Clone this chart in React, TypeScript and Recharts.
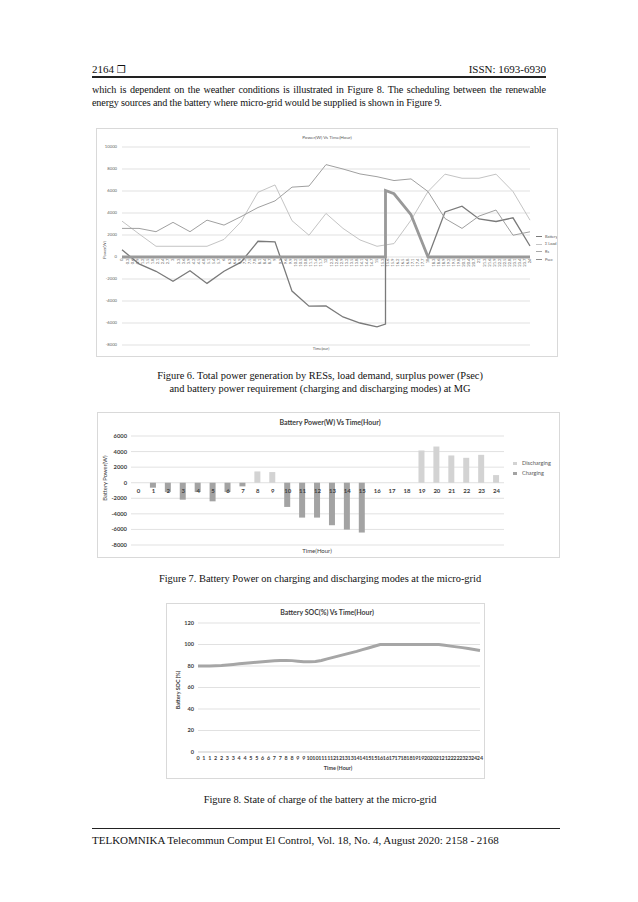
import React from 'react';
import { LineChart, Line, BarChart, Bar, XAxis, YAxis, CartesianGrid } from 'recharts';

// ---- Figure 6: power vs time ----
const HOURS_6 = [0, 1, 2, 3, 4, 5, 6, 7, 8, 9, 10, 11, 12, 13, 14, 15, 15.5, 15.5, 16, 17, 18, 19, 20, 21, 22, 23, 24];
const BATTERY_6 = [650, -620, -1300, -2200, -1250, -2400, -1300, -470, 1430, 1380, -3100, -4470, -4450, -5450, -6000, -6350, -6100, 6050, 5750, 3850, 0, 4100, 4620, 3460, 3230, 3560, 1000];
const LOAD_6 = [3260, 2100, 975, 975, 975, 975, 1600, 3200, 5880, 6550, 3300, 1980, 3960, 2600, 1550, 975, null, null, 1220, 3350, 5950, 7530, 7160, 7160, 7530, 5950, 3350];
const RS_6 = [2600, 2600, 2300, 3150, 2300, 3350, 2900, 3670, 4500, 5100, 6350, 6450, 8400, 8000, 7550, 7300, null, null, 6950, 7100, 5950, 3500, 2600, 3720, 4270, 1980, 2290];
const PSEC_6 = [0, 0, 0, 0, 0, 0, 0, 0, 0, 0, 0, 0, 0, 0, 0, 0, 0, 6050, 5750, 3850, 0, 0, 0, 0, 0, 0, 0];
const XTICKS_6 = [0, 0.3, 0.6, 0.9, 1.2, 1.5, 1.8, 2.1, 2.4, 2.7, 3, 3.3, 3.6, 3.9, 4.2, 4.5, 4.8, 5.1, 5.4, 5.7, 6, 6.3, 6.6, 6.9, 7.2, 7.5, 7.8, 8.1, 8.4, 8.7, 9, 9.3, 9.6, 9.9, 10.2, 10.5, 10.8, 11.1, 11.4, 11.7, 12, 12.3, 12.6, 12.9, 13.2, 13.5, 13.8, 14.1, 14.4, 14.7, 15, 15.3, 15.6, 15.9, 16.2, 16.5, 16.8, 17.1, 17.4, 17.7, 18, 18.3, 18.6, 18.9, 19.2, 19.5, 19.8, 20.1, 20.4, 20.7, 21, 21.3, 21.6, 21.9, 22.2, 22.5, 22.8, 23.1, 23.4, 23.7, 24];
const YTICKS_6 = [-8000, -6000, -4000, -2000, 0, 2000, 4000, 6000, 8000, 10000];

// ---- Figure 7: battery power bars ----
const HOURS_7 = [0, 1, 2, 3, 4, 5, 6, 7, 8, 9, 10, 11, 12, 13, 14, 15, 16, 17, 18, 19, 20, 21, 22, 23, 24];
const DISCHARGING_7 = [0, 0, 0, 0, 0, 0, 0, 0, 1450, 1370, 0, 0, 0, 0, 0, 0, 0, 0, 0, 4140, 4650, 3500, 3200, 3580, 980];
const CHARGING_7 = [0, -640, -1200, -2180, -1200, -2390, -1200, -470, 0, 0, -3110, -4480, -4480, -5460, -6020, -6400, 0, 0, 0, 0, 0, 0, 0, 0, 0];
const YTICKS_7 = [-8000, -6000, -4000, -2000, 0, 2000, 4000, 6000];

// ---- Figure 8: state of charge ----
const TIME_8 = [0, 0.5, 1, 1.5, 2, 2.5, 3, 3.5, 4, 4.5, 5, 5.5, 6, 6.5, 7, 7.5, 8, 8.5, 9, 9.5, 10, 10.5, 11, 11.5, 12, 12.5, 13, 13.5, 14, 14.5, 15, 15.5, 16, 16.5, 17, 17.5, 18, 18.5, 19, 19.5, 20, 20.5, 21, 21.5, 22, 22.5, 23, 23.5, 24];
const LABELS_8 = ['0', '1', '1', '2', '2', '3', '3', '4', '4', '5', '5', '6', '6', '7', '7', '8', '8', '9', '9', '10', '10', '11', '11', '12', '12', '13', '13', '14', '14', '15', '15', '16', '16', '17', '17', '18', '18', '19', '19', '20', '20', '21', '21', '22', '22', '23', '23', '24', '24'];
const SOC_8 = [80, 80, 80, 80.2, 80.5, 81, 81.5, 82, 82.5, 83, 83.5, 84, 84.5, 84.8, 85.1, 85.2, 85, 84.5, 84, 83.9, 84.2, 85.2, 86.6, 88, 89.4, 90.8, 92.2, 93.6, 95.2, 96.8, 98.4, 100, 100, 100, 100, 100, 100, 100, 100, 100, 100, 100, 99.3, 98.5, 97.8, 97.1, 96.2, 95.3, 94.5];
const YTICKS_8 = [0, 20, 40, 60, 80, 100, 120];

const SERIF = '"Liberation Serif", "Times New Roman", serif';
const SANS = 'Lato, "Open Sans", sans-serif';
const GRID = '#d9d9d9';

// chart boxes and plot margins
const W6 = 462, H6 = 229;
const M6 = { top: 19, right: 28, bottom: 4, left: 6 };
const PLOT_H6 = H6 - M6.top - M6.bottom - 8;
const ZERO_6 = M6.top + (PLOT_H6 * YTICKS_6[YTICKS_6.length - 1]) / (YTICKS_6[YTICKS_6.length - 1] - YTICKS_6[0]);

const W7 = 463, H7 = 146;
const M7 = { top: 24, right: 56, bottom: 3, left: 4 };
const PLOT_H7 = H7 - M7.top - M7.bottom - 10;
const ZERO_7 = M7.top + (PLOT_H7 * YTICKS_7[YTICKS_7.length - 1]) / (YTICKS_7[YTICKS_7.length - 1] - YTICKS_7[0]);

const W8 = 319, H8 = 176;
const M8 = { top: 20, right: 5, bottom: 7, left: 4 };

const data6 = HOURS_6.map((t, i) => ({ t, battery: BATTERY_6[i], load: LOAD_6[i], rs: RS_6[i], psec: PSEC_6[i] }));
const data7 = HOURS_7.map((h, i) => ({ h, dis: DISCHARGING_7[i], chg: CHARGING_7[i] }));
const data8 = TIME_8.map((t, i) => ({ t, soc: SOC_8[i] }));

const LEGEND_6 = [
  { name: 'Battery', color: '#7a7a7a' },
  { name: 'Σ Load', color: '#c4c4c4' },
  { name: 'Rs', color: '#a8a8a8' },
  { name: 'Psec', color: '#8f8f8f' },
];

const BODY_LINE_1 = 'which is dependent on the weather conditions is illustrated in Figure 8. The scheduling between the renewable';
const BODY_LINE_2 = 'energy sources and the battery where micro-grid would be supplied is shown in Figure 9.';

function Tick6(props: any) {
  const { x, payload } = props;
  const label = String(Number(Number(payload.value).toFixed(1)));
  return (
    <text transform={`translate(${x},${ZERO_6 + 1.5}) rotate(-90)`} textAnchor="end" dy="0.35em" fontSize={4.2} fill="#666" fontFamily={SANS}>
      {label}
    </text>
  );
}

function Tick7(props: any) {
  const { x, payload } = props;
  return (
    <text x={x} y={ZERO_7 + 8.5} textAnchor="middle" dy="0.35em" fontSize={6} fontWeight="bold" fill="#404040" fontFamily={SANS}>
      {payload.value}
    </text>
  );
}

function Frame({ left, top, width, height, children }: any) {
  return (
    <div style={{ position: 'absolute', left, top, width, height }}>
      {children}
      <div style={{ position: 'absolute', left: 0, top: 0, width, height, boxSizing: 'border-box', border: '1px solid #d9d9d9', pointerEvents: 'none' }} />
    </div>
  );
}

function Abs({ x, y, size, bold, color, rotate, anchor, children, font }: any) {
  const tx = anchor === 'start' ? '0' : '-50%';
  return (
    <div
      style={{
        position: 'absolute', left: x, top: y, whiteSpace: 'nowrap', fontFamily: font || SANS, fontSize: size,
        fontWeight: bold ? 'bold' : 'normal', color: color || '#404040', lineHeight: 1,
        transform: `translate(${tx}, -50%)${rotate ? ' rotate(-90deg)' : ''}`,
      }}
    >
      {children}
    </div>
  );
}

function Figure6() {
  return (
    <Frame left={96} top={128} width={W6} height={H6}>
      <LineChart width={W6} height={H6} data={data6} margin={M6}>
        <CartesianGrid vertical={false} stroke={GRID} strokeWidth={0.8} />
        <YAxis domain={[YTICKS_6[0], YTICKS_6[YTICKS_6.length - 1]]} ticks={YTICKS_6} width={20} axisLine={false} tickLine={false} tickSize={0} tickMargin={5} interval={0} tick={{ fontSize: 4.2, fill: '#666', fontFamily: SANS }} />
        <XAxis dataKey="t" type="number" domain={[0, 24]} ticks={XTICKS_6} interval={0} height={8} axisLine={false} tickLine={false} tick={<Tick6 />} />
        <Line dataKey="battery" stroke="#7a7a7a" strokeWidth={1.3} dot={false} isAnimationActive={false} />
        <Line dataKey="load" stroke="#c4c4c4" strokeWidth={1} dot={false} connectNulls isAnimationActive={false} />
        <Line dataKey="rs" stroke="#a0a0a0" strokeWidth={1} dot={false} connectNulls isAnimationActive={false} />
        <Line dataKey="psec" stroke="#999" strokeWidth={2.8} dot={false} isAnimationActive={false} />
      </LineChart>
      <Abs x={231} y={9} size={4.6} color="#595959">Power(W) Vs Time(Hour)</Abs>
      <Abs x={9} y={122} size={4} color="#595959" rotate>Power(W)</Abs>
      <Abs x={225} y={221} size={4} color="#595959">Time(our)</Abs>
      {LEGEND_6.map((l, i) => (
        <div key={l.name} style={{ position: 'absolute', left: 440, top: 108.7 + i * 7.6 - 2, height: 4, display: 'flex', alignItems: 'center' }}>
          <div style={{ width: 6, height: 1.2, background: l.color, marginRight: 3 }} />
          <span style={{ fontFamily: SANS, fontSize: 3.9, color: '#595959', whiteSpace: 'nowrap', lineHeight: 1 }}>{l.name}</span>
        </div>
      ))}
    </Frame>
  );
}

function Figure7() {
  return (
    <Frame left={97} top={412} width={W7} height={H7}>
      <BarChart width={W7} height={H7} data={data7} margin={M7} stackOffset="sign" barSize={6}>
        <CartesianGrid vertical={false} stroke={GRID} strokeWidth={0.8} />
        <YAxis domain={[YTICKS_7[0], YTICKS_7[YTICKS_7.length - 1]]} ticks={YTICKS_7} width={30} axisLine={false} tickLine={false} tickSize={0} tickMargin={4} interval={0} tick={{ fontSize: 5.8, fill: '#404040', fontWeight: 'bold', fontFamily: SANS }} />
        <Bar dataKey="dis" stackId="s" fill="#d3d3d3" isAnimationActive={false} />
        <Bar dataKey="chg" stackId="s" fill="#a3a3a3" isAnimationActive={false} />
        <XAxis dataKey="h" height={10} interval={0} axisLine={false} tickLine={false} tick={<Tick7 />} />
      </BarChart>
      <Abs x={233} y={10} size={7} bold>Battery Power(W) Vs Time(Hour)</Abs>
      <Abs x={8} y={66} size={5.8} rotate>Battery Power(W)</Abs>
      <Abs x={220} y={139} size={6}>Time(Hour)</Abs>
      <div style={{ position: 'absolute', left: 416, top: 49.5, width: 3.5, height: 3.5, background: '#d3d3d3' }} />
      <Abs x={425} y={51.3} size={5.6} anchor="start" color="#595959">Discharging</Abs>
      <div style={{ position: 'absolute', left: 416, top: 59.5, width: 3.5, height: 3.5, background: '#a3a3a3' }} />
      <Abs x={425} y={61.3} size={5.6} anchor="start" color="#595959">Charging</Abs>
    </Frame>
  );
}

function Figure8() {
  return (
    <Frame left={166} top={603} width={W8} height={H8}>
      <LineChart width={W8} height={H8} data={data8} margin={M8}>
        <CartesianGrid vertical={false} stroke={GRID} strokeWidth={0.8} />
        <YAxis domain={[0, 120]} ticks={YTICKS_8} width={28} axisLine={false} tickLine={false} tickSize={0} tickMargin={4} interval={0} tick={{ fontSize: 5.6, fill: '#404040', fontWeight: 'bold', fontFamily: SANS }} />
        <XAxis dataKey="t" height={20} interval={0} axisLine={{ stroke: GRID }} tickLine={false} tickSize={0} tickMargin={4.5} tickFormatter={(v: any, i: number) => LABELS_8[i]} tick={{ fontSize: 5.4, fill: '#404040', fontWeight: 'bold', fontFamily: SANS }} />
        <Line dataKey="soc" stroke="#a6a6a6" strokeWidth={3} dot={false} isAnimationActive={false} />
      </LineChart>
      <Abs x={161} y={8.7} size={7} bold>Battery SOC(%) Vs Time(Hour)</Abs>
      <Abs x={13.3} y={87} size={5.4} bold rotate>Battery SOC (%)</Abs>
      <Abs x={172} y={166.3} size={5.4} bold>Time (Hour)</Abs>
    </Frame>
  );
}

export default function App() {
  const body: React.CSSProperties = { position: 'absolute', left: 92, width: 454, fontFamily: SERIF, fontSize: 10.2, lineHeight: '13px', color: '#111', whiteSpace: 'nowrap' };
  const caption: React.CSSProperties = { position: 'absolute', left: 0, width: 640, textAlign: 'center', fontFamily: SERIF, fontSize: 10.4, lineHeight: '13px', color: '#111' };
  return (
    <div style={{ position: 'absolute', left: 0, top: 0, width: 638, height: 902, background: '#fff', overflow: 'hidden' }}>
      <div style={{ ...body, top: 62.5, fontSize: 11 }}>2164 <span style={{ fontFamily: '"DejaVu Sans"', fontSize: 10 }}>❐</span></div>
      <div style={{ ...body, top: 62.5, fontSize: 11, textAlign: 'right' }}>ISSN: 1693-6930</div>
      <div style={{ position: 'absolute', left: 92, top: 76, width: 454, height: 1.5, background: '#222' }} />
      <div style={{ ...body, top: 82.5, display: 'flex', justifyContent: 'space-between', letterSpacing: -0.15 }}>
        {BODY_LINE_1.split(' ').map((w, i) => <span key={i}>{w}</span>)}
      </div>
      <div style={{ ...body, top: 96, letterSpacing: -0.15 }}>{BODY_LINE_2}</div>

      <Figure6 />
      <div style={{ ...caption, top: 368.5 }}>Figure 6. Total power generation by RESs, load demand, surplus power (Psec)</div>
      <div style={{ ...caption, top: 381.5 }}>and battery power requirement (charging and discharging modes) at MG</div>

      <Figure7 />
      <div style={{ ...caption, top: 571.5 }}>Figure 7. Battery Power on charging and discharging modes at the micro-grid</div>

      <Figure8 />
      <div style={{ ...caption, top: 792.5 }}>Figure 8. State of charge of the battery at the micro-grid</div>

      <div style={{ position: 'absolute', left: 92, top: 828, width: 468, height: 1.2, background: '#222' }} />
      <div style={{ ...body, top: 834, fontSize: 11, width: 520 }}>TELKOMNIKA Telecommun Comput El Control, Vol. 18, No. 4, August 2020:  2158 - 2168</div>
    </div>
  );
}
